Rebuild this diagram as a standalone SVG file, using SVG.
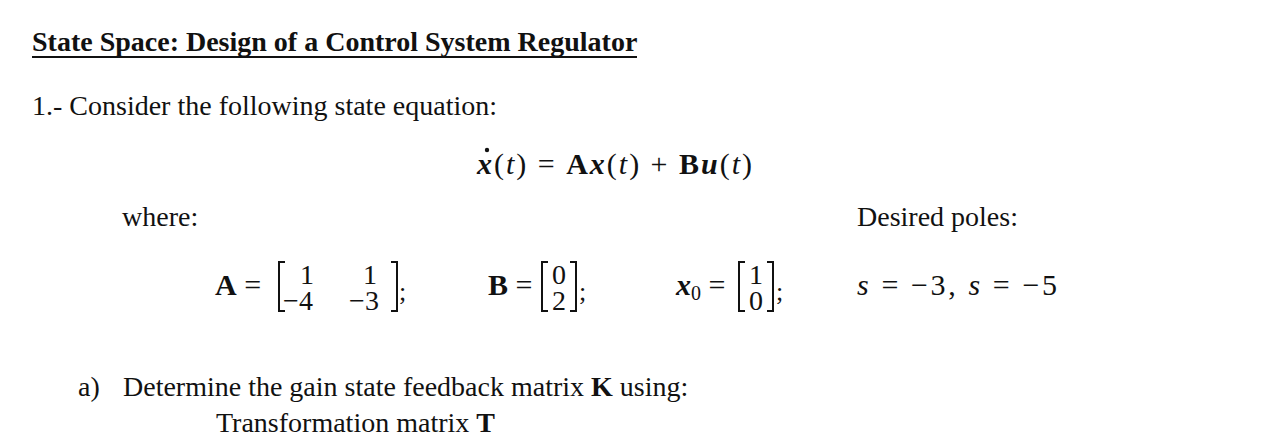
<svg xmlns="http://www.w3.org/2000/svg" width="1280" height="440" viewBox="0 0 1280 440">
<style>
text{font-family:"Liberation Serif","Times New Roman",serif;fill:#111}
.t{font-size:28px}
.m{font-size:30px}
.br{fill:none;stroke:#111;stroke-width:2}
</style>
<rect width="1280" height="440" fill="#fff"/>
<text x="32" y="51" class="t" font-weight="bold">State Space: Design of a Control System Regulator</text>
<line x1="32" y1="57" x2="637" y2="57" stroke="#111" stroke-width="2"/>
<text x="32" y="115" class="t">1.- Consider the following state equation:</text>
<text x="477" y="174" class="m" textLength="275" lengthAdjust="spacing"><tspan font-weight="bold" font-style="italic">x</tspan>(<tspan font-style="italic">t</tspan>) = <tspan font-weight="bold">A</tspan><tspan font-weight="bold" font-style="italic">x</tspan>(<tspan font-style="italic">t</tspan>) + <tspan font-weight="bold">B</tspan><tspan font-weight="bold" font-style="italic">u</tspan>(<tspan font-style="italic">t</tspan>)</text>
<circle cx="487" cy="150" r="2.2" fill="#111"/>
<text x="122" y="226" class="t">where:</text>
<text x="857" y="226" class="t">Desired poles:</text>
<text x="215" y="295" class="m"><tspan font-weight="bold">A</tspan> =</text>
<path class="br" d="M285 262 H279 V311 H285 M391 262 H397 V311 H391"/>
<text x="307" y="284" style="font-size:28px" text-anchor="middle">1</text>
<text x="370" y="284" style="font-size:28px" text-anchor="middle">1</text>
<text x="298" y="310" style="font-size:28px" text-anchor="middle">−4</text>
<text x="364" y="310" style="font-size:28px" text-anchor="middle">−3</text>
<text x="399" y="300" style="font-size:26px">;</text>
<text x="488" y="295" class="m"><tspan font-weight="bold">B</tspan> =</text>
<path class="br" d="M548 262 H542 V311 H548 M570 262 H576 V311 H570"/>
<text x="559" y="284" style="font-size:28px" text-anchor="middle">0</text>
<text x="559" y="310" style="font-size:28px" text-anchor="middle">2</text>
<text x="579" y="300" style="font-size:26px">;</text>
<text x="676" y="295" class="m"><tspan font-weight="bold" font-style="italic">x</tspan><tspan style="font-size:20px" dy="5">0</tspan><tspan dy="-5"> =</tspan></text>
<path class="br" d="M745 262 H739 V311 H745 M767 262 H773 V311 H767"/>
<text x="756" y="284" style="font-size:28px" text-anchor="middle">1</text>
<text x="756" y="310" style="font-size:28px" text-anchor="middle">0</text>
<text x="776" y="300" style="font-size:26px">;</text>
<text x="857" y="295" class="m" textLength="200" lengthAdjust="spacing"><tspan font-style="italic">s</tspan> = −3,  <tspan font-style="italic">s</tspan> = −5</text>
<text x="78" y="396" class="t">a)</text>
<text x="123" y="396" class="t">Determine the gain state feedback matrix <tspan font-weight="bold">K</tspan> using:</text>
<text x="216" y="432" class="t">Transformation matrix <tspan font-weight="bold">T</tspan></text>
</svg>
